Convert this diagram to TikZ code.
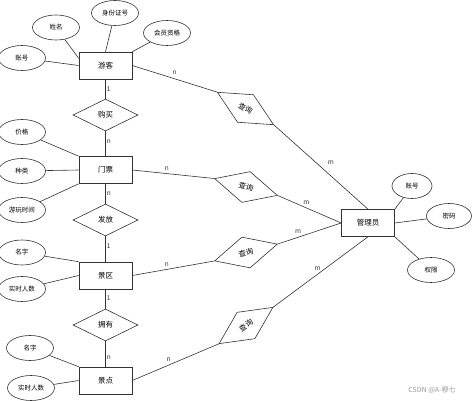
\documentclass[tikz,border=0pt]{standalone}
\usepackage{fontspec}
\setmainfont{Noto Sans CJK SC}
\usetikzlibrary{shapes.geometric}

\begin{document}
\begin{tikzpicture}[x=1pt,y=-1pt,line width=0.6pt,
    entity/.style={draw=black!80, rectangle, minimum width=53pt, minimum height=27pt, inner sep=0pt, font=\fontsize{7.5}{8}\selectfont},
    attr/.style={draw=black!80, ellipse, minimum width=47pt, minimum height=25pt, inner sep=0pt, font=\fontsize{6.5}{7}\selectfont},
    rel/.style={draw=black!80, diamond, minimum width=65pt, minimum height=32pt, inner sep=0pt, font=\fontsize{7.5}{8}\selectfont},
    card/.style={font=\fontsize{6.5}{7}\selectfont, inner sep=1pt, text=black!80},
    link/.style={draw=black!80}]
      \useasboundingbox (0,0) rectangle (474,401);
      % entities
      \node[entity] (youke) at (105.5,65.5) {游客};
      \node[entity] (menpiao) at (105.5,170) {门票};
      \node[entity] (jingqu) at (105.5,275.5) {景区};
      \node[entity] (jingdian) at (105.5,380.5) {景点};
      \node[entity] (admin) at (368,223) {管理员};
      % relations
      \node[rel] (goumai) at (105.5,115) {购买};
      \node[rel] (fafang) at (105.5,220) {发放};
      \node[rel] (yongyou) at (105.5,325) {拥有};
      \node[rel, rotate=-30] (cx1) at (245.5,108.5) {查询};
      \node[rel, rotate=-15] (cx2) at (246,187) {查询};
      \node[rel, rotate=15] (cx3) at (246,252.5) {查询};
      \node[rel, rotate=34] (cx4) at (246,325.5) {查询};
      % attributes
      \node[attr] (yk_name) at (56,27.5) {姓名};
      \node[attr] (yk_id) at (115,13) {身份证号};
      \node[attr] (yk_vip) at (167,33) {会员资格};
      \node[attr] (yk_acc) at (22,58) {账号};
      \node[attr] (mp_price) at (22,132) {价格};
      \node[attr] (mp_kind) at (22,171) {种类};
      \node[attr] (mp_time) at (22,210) {游玩时间};
      \node[attr] (jq_name) at (22,252.5) {名字};
      \node[attr] (jq_num) at (22,289) {实时人数};
      \node[attr] (jd_name) at (30,348) {名字};
      \node[attr] (jd_num) at (31,388) {实时人数};
      \node[attr, minimum width=40pt] (ad_acc) at (412,186) {账号};
      \node[attr, minimum width=45pt] (ad_pwd) at (449,216) {密码};
      \node[attr] (ad_auth) at (431,270) {权限};
      % attribute links
      \draw[link] (yk_name) -- (youke.165);
      \draw[link] (yk_id) -- (youke.north);
      \draw[link] (yk_vip) -- (youke.north east);
      \draw[link] (yk_acc) -- (youke.west);
      \draw[link] (mp_price) -- (menpiao.north west);
      \draw[link] (mp_kind) -- (menpiao.west);
      \draw[link] (mp_time) -- (menpiao.south west);
      \draw[link] (jq_name) -- (jingqu.north west);
      \draw[link] (jq_num) -- (jingqu.west);
      \draw[link] (jd_name) -- (jingdian.north west);
      \draw[link] (jd_num) -- (jingdian.west);
      \draw[link] (ad_acc) -- (admin.north east);
      \draw[link] (ad_pwd) -- (admin.east);
      \draw[link] (ad_auth) -- (admin.south east);
      % left column
      \draw[link] (youke) -- node[card, pos=0.5, right] {1} (goumai);
      \draw[link] (goumai) -- node[card, pos=0.42, right] {n} (menpiao);
      \draw[link] (menpiao) -- node[card, pos=0.5, right] {n} (fafang);
      \draw[link] (fafang) -- node[card, pos=0.37, right] {1} (jingqu);
      \draw[link] (jingqu) -- node[card, pos=0.45, right] {1} (yongyou);
      \draw[link] (yongyou) -- node[card, pos=0.65, right] {n} (jingdian);
      % queries
      \draw[link] (youke.east) -- node[card, pos=0.5, above=3pt] {n} (cx1.west);
      \draw[link] (cx1.east) -- node[card, pos=0.5, xshift=10pt, yshift=4pt] {m} (admin.north);
      \draw[link] (menpiao.east) -- node[card, pos=0.42, above=2pt] {n} (cx2.west);
      \draw[link] (cx2.east) -- node[card, pos=0.45, above=2pt] {m} (admin.west);
      \draw[link] (jingqu.east) -- node[card, pos=0.42, above=2pt] {n} (cx3.west);
      \draw[link] (cx3.east) -- node[card, pos=0.32, above=2pt] {m} (admin.west);
      \draw[link] (jingdian.east) -- node[card, pos=0.42, above=2pt] {n} (cx4.west);
      \draw[link] (cx4.east) -- node[card, pos=0.47, above=2pt] {m} (admin.south);
      % mark
      \node[text=black!40, font=\fontsize{7}{8}\selectfont] (mark) at (432,390) {CSDN @A-穆七};
\end{tikzpicture}
\end{document}
